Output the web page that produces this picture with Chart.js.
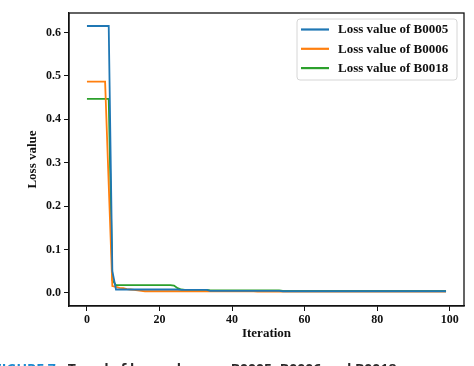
<!DOCTYPE html>
<html>
<head>
<meta charset="utf-8">
<script src="https://cdn.jsdelivr.net/npm/chart.js@4"></script>
<style>
  html, body { margin: 0; padding: 0; background: #fff; overflow: hidden; }
  #wrap { position: relative; width: 474px; height: 366px; overflow: hidden; }
  #wrap canvas { position: absolute; left: 0; top: 0; }
  #cap { position: absolute; left: -6px; top: 362px; white-space: nowrap;
         font-family: "Open Sans", "Noto Sans", sans-serif; font-weight: 700; font-size: 14px;
         line-height: 1; color: #2a2a2a; }
  #cap .fig { color: #1b8ad0; margin-right: 12px; }
</style>
</head>
<body>
<div id="wrap">
  <canvas id="c" width="474" height="366"></canvas>
  <div id="cap"><span class="fig">FIGURE 7</span>Trend of loss values on B0005, B0006 and B0018</div>
</div>
<script>
// ---- data ----
const iterations = [
  0,1,2,3,4,5,6,7,8,9,10,11,12,13,14,15,16,17,18,19,
  20,21,22,23,24,25,26,27,28,29,30,31,32,33,34,35,36,37,38,39,
  40,41,42,43,44,45,46,47,48,49,50,51,52,53,54,55,56,57,58,59,
  60,61,62,63,64,65,66,67,68,69,70,71,72,73,74,75,76,77,78,79,
  80,81,82,83,84,85,86,87,88,89,90,91,92,93,94,95,96,97,98,99
];
const lossB0005 = [
  0.615,0.615,0.615,0.615,0.615,0.615,0.615,0.05,0.008,0.008,
  0.008,0.008,0.008,0.008,0.008,0.008,0.008,0.008,0.008,0.008,
  0.008,0.008,0.008,0.008,0.008,0.008,0.007,0.007,0.007,0.007,
  0.007,0.007,0.007,0.007,0.005,0.005,0.005,0.005,0.005,0.005,
  0.005,0.005,0.005,0.005,0.005,0.005,0.005,0.005,0.005,0.005,
  0.005,0.005,0.005,0.005,0.004,0.004,0.004,0.004,0.004,0.004,
  0.004,0.004,0.004,0.004,0.004,0.004,0.004,0.004,0.004,0.004,
  0.004,0.004,0.004,0.004,0.004,0.004,0.004,0.004,0.004,0.004,
  0.004,0.004,0.004,0.004,0.004,0.004,0.004,0.004,0.004,0.004,
  0.004,0.004,0.004,0.004,0.004,0.004,0.004,0.004,0.004,0.004
];
const lossB0006 = [
  0.487,0.487,0.487,0.487,0.487,0.487,0.25,0.016,0.014,0.012,
  0.011,0.009,0.008,0.007,0.006,0.005,0.004,0.004,0.004,0.004,
  0.004,0.004,0.004,0.004,0.004,0.004,0.004,0.004,0.004,0.004,
  0.004,0.004,0.004,0.004,0.004,0.004,0.004,0.004,0.004,0.004,
  0.004,0.004,0.004,0.004,0.004,0.004,0.004,0.003,0.003,0.003,
  0.003,0.003,0.003,0.003,0.003,0.003,0.003,0.003,0.003,0.003,
  0.003,0.003,0.003,0.003,0.003,0.003,0.003,0.003,0.003,0.003,
  0.003,0.003,0.003,0.003,0.003,0.003,0.003,0.003,0.003,0.003,
  0.003,0.003,0.003,0.003,0.003,0.003,0.003,0.003,0.003,0.003,
  0.003,0.003,0.003,0.003,0.003,0.003,0.003,0.003,0.003,0.003
];
const lossB0018 = [
  0.447,0.447,0.447,0.447,0.447,0.447,0.447,0.03,0.018,0.018,
  0.018,0.018,0.018,0.018,0.018,0.018,0.018,0.018,0.018,0.018,
  0.018,0.018,0.018,0.018,0.017,0.011,0.008,0.007,0.007,0.007,
  0.007,0.007,0.007,0.007,0.006,0.006,0.006,0.006,0.006,0.006,
  0.006,0.006,0.006,0.006,0.006,0.006,0.006,0.006,0.006,0.006,
  0.006,0.006,0.006,0.006,0.005,0.005,0.005,0.005,0.005,0.005,
  0.005,0.005,0.005,0.005,0.005,0.005,0.005,0.005,0.005,0.005,
  0.005,0.005,0.005,0.005,0.005,0.005,0.005,0.005,0.005,0.005,
  0.005,0.005,0.005,0.005,0.005,0.005,0.005,0.005,0.005,0.005,
  0.005,0.005,0.005,0.005,0.005,0.005,0.005,0.005,0.005,0.005
];
const seriesLabels = ["Loss value of B0005", "Loss value of B0006", "Loss value of B0018"];
const xTickValues = [0, 20, 40, 60, 80, 100];
const yTickValues = [0.0, 0.1, 0.2, 0.3, 0.4, 0.5, 0.6];

// ---- styling ----
const colors = ["#1f77b4", "#ff7f0e", "#2ca02c"];
const serif = '"Liberation Serif", "Times New Roman", serif';
const inkColor = "#111";

function pts(vals) { return vals.map((v, i) => ({ x: iterations[i], y: v })); }

const frameAndLegend = {
  id: "frameAndLegend",
  afterDatasetsDraw(chart) {
    const { ctx, chartArea: a } = chart;
    ctx.save();
    ctx.strokeStyle = inkColor;
    ctx.lineWidth = 1.3;
    ctx.strokeRect(a.left, a.top, a.right - a.left, a.bottom - a.top);
    // legend box (upper right, inside plot)
    const bw = 160, bh = 61;
    const bx = a.right - 7 - bw, by = a.top + 6;
    const r = 3;
    ctx.beginPath();
    ctx.moveTo(bx + r, by);
    ctx.arcTo(bx + bw, by, bx + bw, by + bh, r);
    ctx.arcTo(bx + bw, by + bh, bx, by + bh, r);
    ctx.arcTo(bx, by + bh, bx, by, r);
    ctx.arcTo(bx, by, bx + bw, by, r);
    ctx.closePath();
    ctx.fillStyle = "rgba(255,255,255,0.85)";
    ctx.fill();
    ctx.strokeStyle = "#d6d6d6";
    ctx.lineWidth = 1;
    ctx.stroke();
    ctx.font = "bold 13px " + serif;
    ctx.textBaseline = "middle";
    ctx.textAlign = "left";
    chart.data.datasets.forEach((ds, i) => {
      const yy = by + 10.5 + i * 19.3;
      ctx.strokeStyle = ds.borderColor;
      ctx.lineWidth = 2.2;
      ctx.beginPath();
      ctx.moveTo(bx + 4, yy);
      ctx.lineTo(bx + 32, yy);
      ctx.stroke();
      ctx.fillStyle = inkColor;
      ctx.fillText(ds.label, bx + 41, yy + 0.5);
    });
    ctx.restore();
  }
};

new Chart(document.getElementById("c"), {
  type: "line",
  data: {
    datasets: seriesLabels.map((lab, i) => ({
      label: lab,
      data: pts([lossB0005, lossB0006, lossB0018][i]),
      borderColor: colors[i],
      backgroundColor: colors[i],
      borderWidth: 1.8,
      pointRadius: 0,
      tension: 0,
      fill: false
    }))
  },
  options: {
    responsive: false,
    animation: false,
    events: [],
    layout: { padding: { top: 13, right: 10, bottom: 25, left: 0 } },
    plugins: { legend: { display: false }, tooltip: { enabled: false } },
    scales: {
      x: {
        type: "linear",
        min: -4.95,
        max: 103.95,
        afterBuildTicks: (s) => { s.ticks = xTickValues.map(v => ({ value: v })); },
        afterFit: (s) => { s.height = 35; },
        grid: { drawOnChartArea: false, tickLength: 5, color: inkColor, tickWidth: 1 },
        border: { display: true, color: inkColor, width: 1.3 },
        ticks: {
          color: inkColor, padding: 2, maxRotation: 0,
          font: { family: serif, weight: "bold", size: 12 },
          callback: (v) => String(v)
        },
        title: {
          display: true, text: "Iteration", color: inkColor,
          font: { family: serif, weight: "bold", size: 13 },
          padding: { top: 0, bottom: 0 }
        }
      },
      y: {
        type: "linear",
        min: -0.03,
        max: 0.645,
        afterBuildTicks: (s) => { s.ticks = yTickValues.map(v => ({ value: v })); },
        afterFit: (s) => { s.width = 69; },
        grid: { drawOnChartArea: false, tickLength: 5, color: inkColor, tickWidth: 1 },
        border: { display: true, color: inkColor, width: 1.3 },
        ticks: {
          color: inkColor, padding: 3,
          font: { family: serif, weight: "bold", size: 12 },
          callback: (v) => Number(v).toFixed(1)
        },
        title: {
          display: true, text: "Loss value", color: inkColor,
          font: { family: serif, weight: "bold", size: 13 },
          padding: { top: 25, bottom: 0 }
        }
      }
    }
  },
  plugins: [frameAndLegend]
});
</script>
</body>
</html>
